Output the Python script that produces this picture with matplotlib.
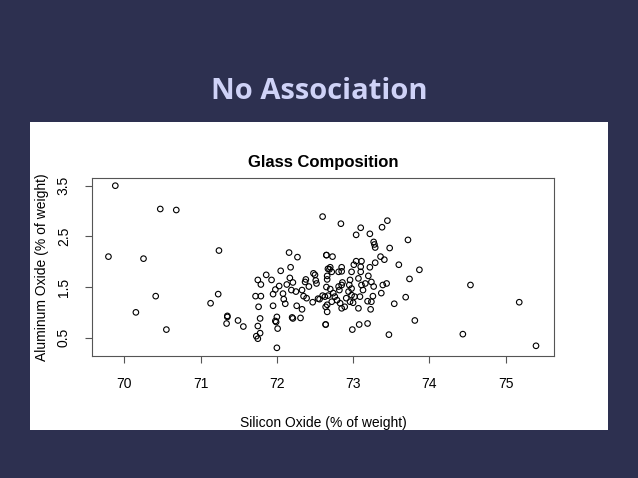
import matplotlib
matplotlib.use("Agg")
import matplotlib.pyplot as plt
from matplotlib.patches import Rectangle

plt.rcParams["font.family"] = ["Liberation Sans", "DejaVu Sans"]

# Silicon oxide (% weight) vs aluminum oxide (% weight)
silicon = [
    69.88, 69.79, 70.25, 70.15, 70.41, 70.47, 70.68, 70.55, 71.24, 71.23, 71.13,
    71.35, 71.35, 71.34, 71.49, 71.56, 72.00,
    71.75, 71.79, 71.72, 71.79, 71.76, 71.78, 71.75, 71.78, 71.73, 71.75, 71.86,
    71.93, 71.95, 71.98, 72.03, 71.95, 71.99, 71.98, 72.00, 72.01, 72.05, 72.08,
    72.09, 72.11, 72.13, 72.16, 72.17, 72.18, 72.19, 72.21, 72.20, 72.21, 72.27,
    72.26, 72.25, 72.31, 72.33, 72.33, 72.37, 72.38, 72.35, 72.39, 72.42, 72.47,
    72.48, 72.50, 72.51, 72.52, 72.54, 72.56, 72.60, 72.60, 72.65, 72.66, 72.67,
    72.64, 72.66, 72.64, 72.65, 72.63,
    72.84, 73.04, 73.10, 73.22, 73.27, 73.28, 73.29, 73.38, 73.45, 73.72, 73.48,
    73.60, 73.87, 73.74, 74.54, 75.18, 75.40, 74.44, 73.81, 73.69, 73.54, 73.47,
    73.44, 73.39, 73.37, 73.36, 73.41, 73.29, 73.22, 73.20, 73.16, 73.24, 73.27,
    73.26, 73.24, 73.23, 73.19, 73.19, 73.08, 72.99, 73.00, 73.07, 73.09, 73.13,
    73.11, 73.07, 73.10, 73.10, 73.11, 73.04, 73.01, 72.98, 72.96, 72.95, 72.98,
    72.94, 72.98, 73.02, 72.96, 72.91, 72.89, 72.85, 72.83, 72.79, 72.76, 72.74,
    72.72, 72.85, 72.86, 72.81, 72.85, 72.85, 72.72, 72.70, 72.69, 72.73, 72.65,
    72.66, 72.64, 72.70, 72.67, 72.66, 72.81, 72.82,
]
aluminum = [
    3.50, 2.10, 2.06, 1.00, 1.32, 3.04, 3.02, 0.66, 2.22, 1.36, 1.18,
    0.93, 0.91, 0.78, 0.84, 0.72, 0.30,
    1.64, 1.55, 1.32, 1.32, 1.11, 0.88, 0.73, 0.59, 0.53, 0.48, 1.74,
    1.64, 1.36, 1.45, 1.52, 1.13, 0.81, 0.83, 0.91, 0.68, 1.82, 1.37,
    1.26, 1.17, 1.55, 2.18, 1.68, 1.89, 1.44, 1.59, 0.90, 0.88, 2.09,
    1.13, 1.41, 0.89, 1.06, 1.44, 1.60, 1.65, 1.32, 1.28, 1.51, 1.20,
    1.77, 1.74, 1.63, 1.57, 1.27, 1.26, 2.89, 1.33, 2.13, 1.65, 1.86,
    1.11, 1.01, 0.76, 1.50, 1.31,
    2.75, 2.53, 2.67, 2.55, 2.39, 2.34, 2.28, 2.68, 2.81, 2.43, 2.27,
    1.94, 1.84, 1.66, 1.54, 1.20, 0.34, 0.57, 0.84, 1.30, 1.17, 0.56,
    1.57, 1.54, 1.38, 2.10, 2.04, 1.98, 1.89, 1.72, 1.57, 1.60, 1.51,
    1.32, 1.21, 1.06, 1.22, 0.78, 0.76, 0.66, 1.19, 1.08, 1.31, 1.44,
    1.54, 1.67, 1.80, 1.90, 2.01, 2.01, 1.94, 1.80, 1.64, 1.54, 1.47,
    1.41, 1.34, 1.31, 1.21, 1.28, 1.11, 1.08, 1.18, 1.24, 1.31, 1.38,
    1.21, 1.54, 1.59, 1.80, 1.81, 1.89, 1.80, 1.89, 1.85, 2.10, 2.13,
    1.72, 0.76, 1.46, 1.33, 1.15, 1.51, 1.44,
]
x_ticks = [70, 71, 72, 73, 74, 75]
y_ticks = [0.5, 1.5, 2.5, 3.5]

NAVY = "#2d3050"
TITLE = "#cfd2f7"

fig = plt.figure(figsize=(6.38, 4.78), dpi=100, facecolor=NAVY)
# white slide panel behind the R plot
fig.patches.append(Rectangle((0.047, 0.10), 0.906, 0.645, transform=fig.transFigure,
                             facecolor="white", edgecolor="none", zorder=-5))
fig.text(0.5, 0.808, "No Association", ha="center", va="center", color=TITLE,
         fontsize=21, fontweight="bold", family=["Open Sans", "DejaVu Sans"])

ax = fig.add_axes([0.1437, 0.2559, 0.7251, 0.3711])
ax.set_zorder(5)
ax.patch.set_alpha(0)
ax.scatter(silicon, aluminum, s=16, facecolors="none", edgecolors="black", linewidths=0.8)
ax.set_xlim(69.57, 75.64)
ax.set_ylim(0.145, 3.646)
ax.set_xticks(x_ticks)
ax.set_yticks(y_ticks)
ax.set_yticklabels([str(v) for v in y_ticks], rotation=90, va="center")
ax.tick_params(labelsize=10, length=5, color="#555555", pad=10)
for s in ax.spines.values():
    s.set_color("#555555")
ax.set_title("Glass Composition", fontsize=12, fontweight="bold", pad=8)
ax.set_xlabel("Silicon Oxide (% of weight)", fontsize=10, labelpad=18)
ax.set_ylabel("Aluminum Oxide (% of weight)", fontsize=10, labelpad=6)

fig.savefig("out.png", dpi=100, facecolor=NAVY)
